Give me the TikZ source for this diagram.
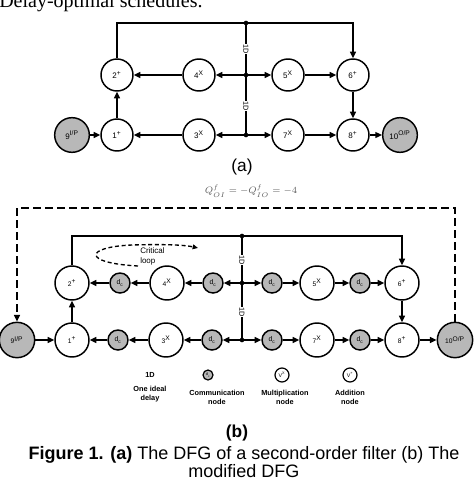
\documentclass[tikz,border=0pt]{standalone}
\usepackage{fontspec}
\setmainfont{Liberation Sans}
\newfontfamily\headfont{Liberation Serif}
\usetikzlibrary{arrows.meta}

\begin{document}
\begin{tikzpicture}[x=0.75pt,y=0.75pt,yscale=-1,xscale=1,
    opa/.style={circle,draw,line width=1.1pt,fill=white,minimum size=24pt,inner sep=0pt,font=\fontsize{6}{7}\selectfont},
    ioa/.style={opa,fill=black!28,minimum size=26pt},
    opb/.style={opa,minimum size=25.5pt,font=\fontsize{5}{6}\selectfont},
    iob/.style={opb,fill=black!28,minimum size=26.5pt},
    dcb/.style={circle,draw,line width=1.1pt,fill=black!28,minimum size=15pt,inner sep=0pt,font=\fontsize{5.2}{6}\selectfont},
    jdot/.style={circle,fill,inner sep=0pt,minimum size=3.5pt},
    wire/.style={line width=1.1pt},
    edge/.style={wire,-{Triangle[length=5pt,width=4.5pt]}},
    fback/.style={edge,dash pattern=on 6pt off 3pt},
    delaylbl/.style={fill=white,inner sep=0.6pt,rotate=-90,font=\fontsize{5.5}{6}\selectfont},
    legendtxt/.style={font=\bfseries\fontsize{5.5}{6.8}\selectfont,align=center,inner sep=0pt}]
    \useasboundingbox (0,0) rectangle (474,482);
    \clip (0,0) rectangle (474,482);

    \node[anchor=base west,inner sep=0pt,font=\headfont\fontsize{15}{17}\selectfont] (head) at (-1,7) {Delay-optimal schedules.};

    % (a) original DFG
    \node[ioa] (a9) at (72,135) {9\textsuperscript{I/P}};
    \node[opa] (a1) at (117,135) {1\textsuperscript{+}};
    \node[opa] (a2) at (117,75) {2\textsuperscript{+}};
    \node[opa] (a3) at (199,135) {3\textsuperscript{X}};
    \node[opa] (a4) at (199,75) {4\textsuperscript{X}};
    \node[opa] (a5) at (288,75) {5\textsuperscript{X}};
    \node[opa] (a6) at (353,75) {6\textsuperscript{+}};
    \node[opa] (a7) at (288,135) {7\textsuperscript{X}};
    \node[opa] (a8) at (353,135) {8\textsuperscript{+}};
    \node[ioa] (a10) at (400,135) {10\textsuperscript{O/P}};
    \node[jdot] (at) at (246,23) {};
    \node[jdot] (am) at (246,75) {};
    \node[jdot] (ab) at (246,135) {};

    \draw[wire] (at.center) -- (am.center) -- (ab.center);
    \node[delaylbl] (ad1) at (246,49) {1D};
    \node[delaylbl] (ad2) at (246,106) {1D};
    \draw[edge] (a2) |- (at.center) -| (a6);
    \draw[edge] (a9) -- (a1);
    \draw[edge] (a1) -- (a2);
    \draw[edge] (a3) -- (a1);
    \draw[edge] (a4) -- (a2);
    \draw[edge] (am.center) -- (a4);
    \draw[edge] (am.center) -- (a5);
    \draw[edge] (a5) -- (a6);
    \draw[edge] (a6) -- (a8);
    \draw[edge] (ab.center) -- (a3);
    \draw[edge] (ab.center) -- (a7);
    \draw[edge] (a7) -- (a8);
    \draw[edge] (a8) -- (a10);

    \node[font=\fontsize{13}{15}\selectfont] (lbla) at (242,167) {(a)};
    \node[text=black!65,font=\fontsize{7}{8}\selectfont] (eq) at (251,191) {$Q^{f}_{OI}=-Q^{f}_{IO}=-4$};

    % (b) modified DFG
    \node[iob] (b9) at (17,340) {9\textsuperscript{I/P}};
    \node[opb] (b1) at (72,340) {1\textsuperscript{+}};
    \node[opb] (b2) at (72,283) {2\textsuperscript{+}};
    \node[dcb] (c1) at (118,340) {d\textsubscript{c}};
    \node[opb] (b3) at (166,340) {3\textsuperscript{X}};
    \node[dcb] (c2) at (212,340) {d\textsubscript{c}};
    \node[dcb] (c3) at (272,340) {d\textsubscript{c}};
    \node[opb] (b7) at (317,340) {7\textsuperscript{X}};
    \node[dcb] (c4) at (360,340) {d\textsubscript{c}};
    \node[opb] (b8) at (402,340) {8\textsuperscript{+}};
    \node[iob] (b10) at (455,340) {10\textsuperscript{O/P}};
    \node[dcb] (c5) at (120,283) {d\textsubscript{c}};
    \node[opb] (b4) at (167,283) {4\textsuperscript{X}};
    \node[dcb] (c6) at (213,283) {d\textsubscript{c}};
    \node[dcb] (c7) at (272,283) {d\textsubscript{c}};
    \node[opb] (b5) at (317,283) {5\textsuperscript{X}};
    \node[dcb] (c8) at (360,283) {d\textsubscript{c}};
    \node[opb] (b6) at (402,283) {6\textsuperscript{+}};
    \node[jdot] (bt) at (242,236) {};
    \node[jdot] (bm) at (242,283) {};
    \node[jdot] (bb) at (242,340) {};
    \coordinate (fb) at (236,208);

    \draw[wire] (bt.center) -- (bm.center) -- (bb.center);
    \node[delaylbl] (bd1) at (242,260) {1D};
    \node[delaylbl] (bd2) at (242,312) {1D};
    \draw[edge] (b2) |- (bt.center) -| (b6);
    \draw[fback] (b10) |- (fb) -| (b9);
    \draw[edge] (b9) -- (b1);
    \draw[edge] (b1) -- (b2);
    \draw[edge] (c1) -- (b1);
    \draw[edge] (b3) -- (c1);
    \draw[edge] (c2) -- (b3);
    \draw[edge] (bb.center) -- (c2);
    \draw[edge] (bb.center) -- (c3);
    \draw[edge] (c3) -- (b7);
    \draw[edge] (b7) -- (c4);
    \draw[edge] (c4) -- (b8);
    \draw[edge] (b8) -- (b10);
    \draw[edge] (c5) -- (b2);
    \draw[edge] (b4) -- (c5);
    \draw[edge] (c6) -- (b4);
    \draw[edge] (bm.center) -- (c6);
    \draw[edge] (bm.center) -- (c7);
    \draw[edge] (c7) -- (b5);
    \draw[edge] (b5) -- (c8);
    \draw[edge] (c8) -- (b6);
    \draw[edge] (b6) -- (b8);

    % critical loop
    \draw[line width=1pt,densely dashed,-{Triangle[length=4pt,width=3.5pt]}] (138,266) .. controls (82,263) and (84,247) .. (132,245) .. controls (165,244) and (185,245) .. (198,248);
    \node[anchor=west,align=left,inner sep=0pt,font=\fontsize{6}{7.5}\selectfont] (crit) at (140,256) {Critical\\loop};

    % legend
    \node[legendtxt] (l1) at (150,375) {1D};
    \node[legendtxt] (l1t) at (150,394) {One ideal\\delay};
    \node[dcb,minimum size=7.5pt,line width=0.9pt,font=\fontsize{3}{3}\selectfont] (l2) at (208,375) {d\textsubscript{c}};
    \node[legendtxt] (l2t) at (217,397) {Communication\\node};
    \node[opb,minimum size=10.5pt,line width=0.9pt,font=\fontsize{4}{4}\selectfont] (l3) at (282,375) {V\textsuperscript{X}};
    \node[legendtxt] (l3t) at (285,397) {Multiplication\\node};
    \node[opb,minimum size=10.5pt,line width=0.9pt,font=\fontsize{4}{4}\selectfont] (l4) at (350,375) {V\textsuperscript{+}};
    \node[legendtxt] (l4t) at (350,397) {Addition\\node};

    \node[font=\bfseries\fontsize{13}{15}\selectfont] (lblb) at (237,433) {(b)};
    \node[align=center,font=\fontsize{13.5}{14}\selectfont] (cap) at (244,462) {\textbf{Figure 1. (a)} The DFG of a second-order filter (b) The\\modified DFG};
\end{tikzpicture}
\end{document}
